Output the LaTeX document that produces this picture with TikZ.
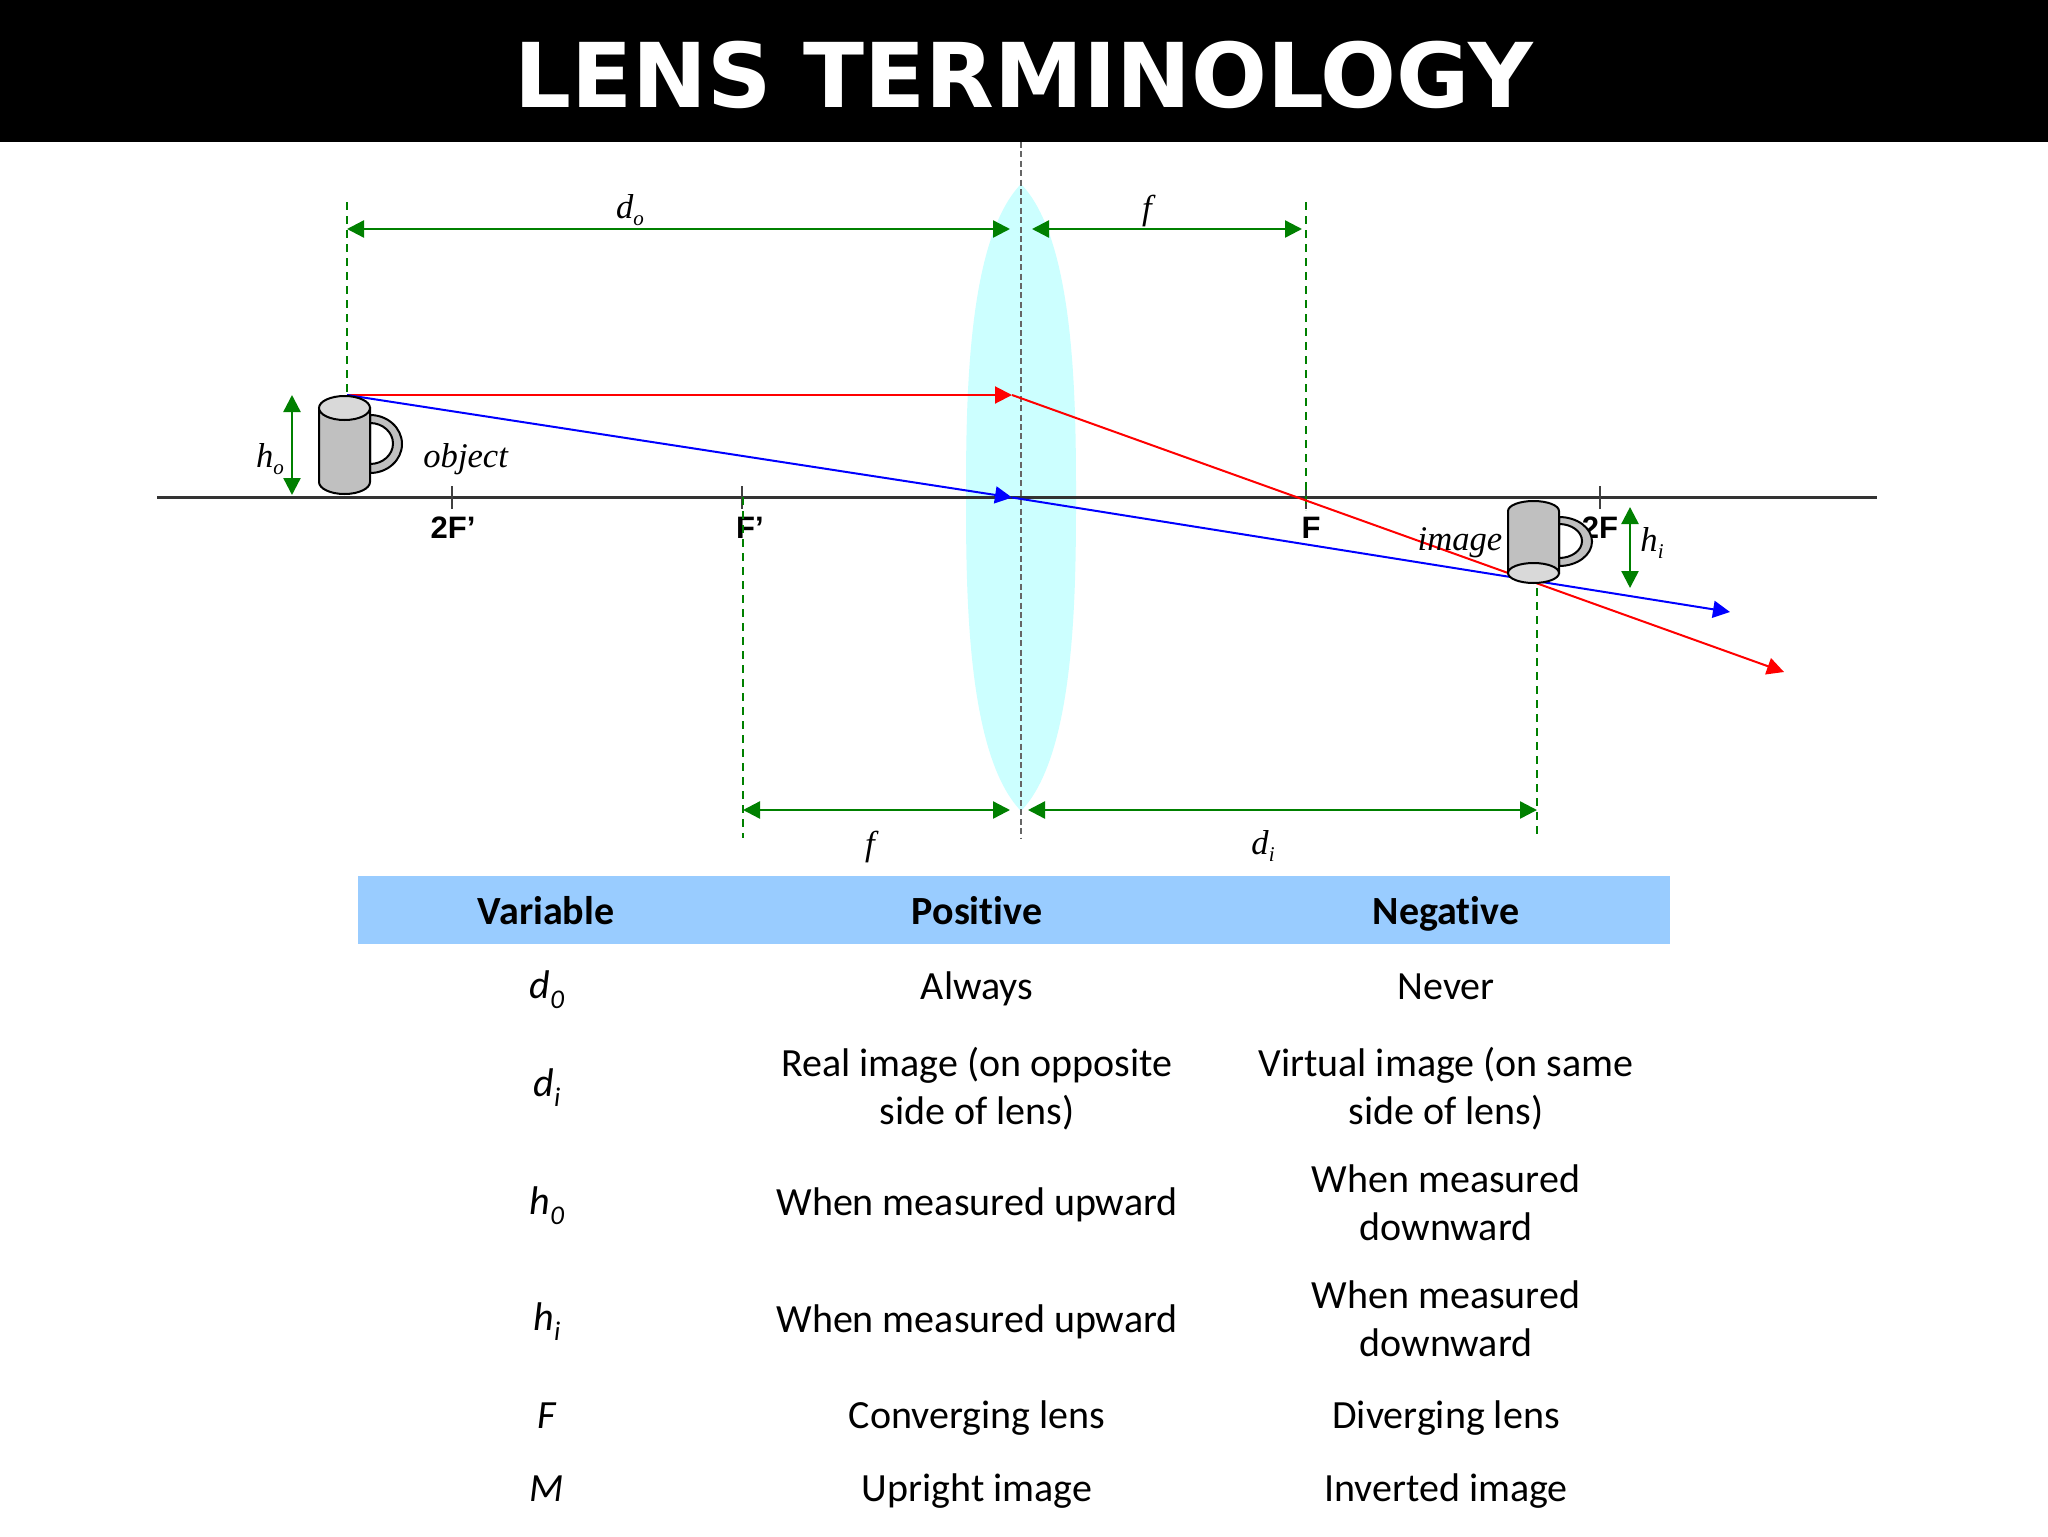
\documentclass[tikz,border=0pt]{standalone}
\usepackage{fontspec}
\setmainfont[Ligatures=NoCommon]{Carlito}
\newfontfamily\titlefont{DejaVu Sans}
\newfontfamily\axisfont{Liberation Sans}
\newfontfamily\mathfont{Liberation Serif}
\usetikzlibrary{arrows.meta}
\definecolor{grn}{RGB}{0,128,0}
\definecolor{lensc}{RGB}{204,255,255}
\definecolor{hdr}{RGB}{153,204,255}
\definecolor{mugb}{RGB}{192,192,192}
\definecolor{mugt}{RGB}{217,217,217}
\newcommand{\lab}[2]{{\mathfont\itshape #1\raisebox{-3.5pt}{\fontsize{10.5}{10.5}\selectfont #2}}}
\newcommand{\var}[2]{{\itshape #1\raisebox{-5pt}{\fontsize{13.5}{14}\selectfont #2}}}
\tikzset{
  dim/.style={draw=grn,line width=1.2pt,{Triangle[length=8.5pt,width=8.5pt]}-{Triangle[length=8.5pt,width=8.5pt]}},
  guide/.style={draw=grn,line width=1pt,dash pattern=on 4pt off 3pt},
  redray/.style={draw=red,line width=1pt},
  blueray/.style={draw=blue,line width=1pt},
  rayhead/.style={-{Triangle[length=8.5pt,width=8.5pt]}},
  tick/.style={draw=black!75,line width=.7pt},
  axislab/.style={font=\axisfont\bfseries\fontsize{15.5}{16}\selectfont,anchor=base,inner sep=0pt},
  mlab/.style={font=\mathfont\itshape\fontsize{17.3}{19}\selectfont,anchor=base,inner sep=0pt},
  cell/.style={font=\fontsize{20}{24}\selectfont,align=center,anchor=center,inner sep=0pt},
  hcell/.style={font=\bfseries\fontsize{20}{24}\selectfont,anchor=center,inner sep=0pt},
  mugline/.style={draw=black,line width=1pt},
}
\begin{document}
\begin{tikzpicture}[x=0.5pt,y=-0.5pt]
\useasboundingbox (0,0) rectangle (2048,1536);
\fill[white] (0,0) rectangle (2048,1536);
% title
\fill[black] (0,0) rectangle (2048,142);
\node[anchor=base,inner sep=0pt,text=white,font=\titlefont\bfseries\fontsize{44.7}{50}\selectfont] (title) at (1024,107) {LENS TERMINOLOGY};
% lens
\fill[lensc] (1021,184) .. controls (1075,240) and (1076,400) .. (1076,497.5)
  .. controls (1076,595) and (1075,755) .. (1021,811)
  .. controls (967,755) and (966,595) .. (966,497.5)
  .. controls (966,400) and (967,240) .. (1021,184) -- cycle;
% named points
\coordinate (axL) at (157,497.5); \coordinate (axR) at (1877,497.5);
\coordinate (cT) at (1021,142); \coordinate (cB) at (1021,838);
\coordinate (objTop) at (347,395); \coordinate (objTopG) at (347,202);
\coordinate (lensR) at (1012,395); \coordinate (lensB) at (1012,497.5);
\coordinate (redEnd) at (1784,672); \coordinate (blueEnd) at (1730,612);
\coordinate (fT) at (1306,202); \coordinate (fB) at (1306,510);
\coordinate (fpT) at (743,497); \coordinate (fpB) at (743,838);
\coordinate (imT) at (1537,588); \coordinate (imB) at (1537,835);
% axis
\draw[draw=black!80,line width=1.05pt] (axL) -- (axR);
\foreach \n/\x in {a/452,b/742,c/1306,d/1600}{\draw[tick] (\x,486) -- (\x,509);}
\draw[draw=black!60,line width=1.3pt,dash pattern=on 3pt off 1.7pt] (cT) -- (cB);
% labels on axis
\node[axislab] (l2fp) at (453,538) {2F’};
\node[axislab] (lfp) at (750,538) {F’};
\node[axislab] (lf) at (1311,538) {F};
\node[axislab] (l2f) at (1600,538) {2F};
% guides
\draw[guide] (objTopG) -- (objTop);
\draw[guide] (fT) -- (fB);
\draw[guide] (fpT) -- (fpB);
\draw[guide] (imT) -- (imB);
% dims
\coordinate (d1a) at (347,229); \coordinate (d1b) at (1010,229);
\coordinate (d2a) at (1032,229); \coordinate (d2b) at (1302,229);
\coordinate (d3a) at (743,810); \coordinate (d3b) at (1010,810);
\coordinate (d4a) at (1028,810); \coordinate (d4b) at (1537,810);
\coordinate (hoa) at (292,395); \coordinate (hob) at (292,495);
\coordinate (hia) at (1630,507); \coordinate (hib) at (1630,588);
\draw[dim] (d1a) -- (d1b);
\draw[dim] (d2a) -- (d2b);
\draw[dim] (d3a) -- (d3b);
\draw[dim] (d4a) -- (d4b);
\draw[dim] (hoa) -- (hob);
\draw[dim] (hia) -- (hib);
% rays
\draw[redray,rayhead] (lensR) -- (redEnd);
\draw[redray,rayhead] (objTop) -- (lensR);
\draw[blueray,rayhead] (objTop) -- (lensB);
\draw[blueray,rayhead] (lensB) -- (blueEnd);
% object mug
\begin{scope}
\path[fill=mugb,even odd rule,mugline] (370,415) arc[start angle=90,end angle=-90,x radius=16pt,y radius=14.5pt] -- cycle
  (370,423) arc[start angle=90,end angle=-90,x radius=11.5pt,y radius=10.25pt] -- cycle;
\path[fill=mugb,mugline] (319,408) -- (319,482) arc[start angle=180,end angle=360,x radius=12.75pt,y radius=6pt] -- (370,408) -- cycle;
\path[fill=mugt,mugline] (344.5,408) ellipse[x radius=12.75pt,y radius=6pt];
\end{scope}
% image mug
\begin{scope}
\path[fill=mugb,even odd rule,mugline] (1559,517) arc[start angle=90,end angle=-90,x radius=16.5pt,y radius=12.25pt] -- cycle
  (1559,524) arc[start angle=90,end angle=-90,x radius=11.5pt,y radius=8.5pt] -- cycle;
\path[fill=mugb,mugline] (1508,573) -- (1508,511) arc[start angle=180,end angle=0,x radius=12.75pt,y radius=5pt] -- (1559,573) -- cycle;
\path[fill=mugt,mugline] (1533.5,573) ellipse[x radius=12.75pt,y radius=5pt];
\end{scope}
% math labels
\node[mlab] (do) at (630,218) {\lab{d}{o}};
\node[mlab] (f1) at (1147,219) {f};
\node[mlab] (f2) at (870,855) {f};
\node[mlab] (di) at (1263,854) {\lab{d}{i}};
\node[mlab] (ho) at (270,467) {\lab{h}{o}};
\node[mlab] (hi) at (1652,551) {\lab{h}{i}};
\node[mlab,anchor=base west] (obj) at (423,467) {object};
\node[mlab] (img) at (1460,550) {image};
% table
\fill[hdr] (358,876) rectangle (1670,944);
\node[hcell] (h1) at (546,915) {\strut Variable};
\node[hcell] (h2) at (977,915) {\strut Positive};
\node[hcell] (h3) at (1446,915) {\strut Negative};
\node[cell] (r1a) at (547,989) {\strut\var{d}{0}};
\node[cell] (r1b) at (977,990) {\strut Always};
\node[cell] (r1c) at (1446,990) {\strut Never};
\node[cell] (r2a) at (547,1087) {\strut\var{d}{i}};
\node[cell] (r2b) at (977,1091) {\strut Real image (on opposite\\\strut side of lens)};
\node[cell] (r2c) at (1446,1091) {\strut Virtual image (on same\\\strut side of lens)};
\node[cell] (r3a) at (547,1205) {\strut\var{h}{0}};
\node[cell] (r3b) at (977,1206) {\strut When measured upward};
\node[cell] (r3c) at (1446,1207) {\strut When measured\\\strut downward};
\node[cell] (r4a) at (547,1321) {\strut\var{h}{i}};
\node[cell] (r4b) at (977,1323) {\strut When measured upward};
\node[cell] (r4c) at (1446,1323) {\strut When measured\\\strut downward};
\node[cell] (r5a) at (547,1419) {\strut\itshape F};
\node[cell] (r5b) at (977,1419) {\strut Converging lens};
\node[cell] (r5c) at (1446,1419) {\strut Diverging lens};
\node[cell] (r6a) at (547,1492) {\strut\itshape M};
\node[cell] (r6b) at (977,1492) {\strut Upright image};
\node[cell] (r6c) at (1446,1492) {\strut Inverted image};
\end{tikzpicture}
\end{document}
